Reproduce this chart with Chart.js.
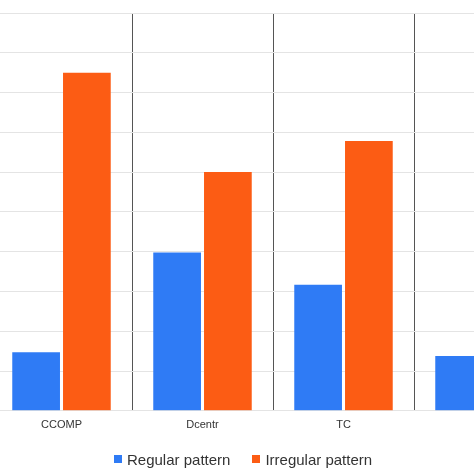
<!DOCTYPE html>
<html>
<head>
<meta charset="utf-8">
<script src="https://cdn.jsdelivr.net/npm/chart.js@4.4.0/dist/chart.umd.min.js"></script>
<style>
  html, body { margin: 0; padding: 0; background: #fff; overflow: hidden; }
  #wrap { position: absolute; left: -9px; top: 0; width: 600px; height: 474px; }
  #legend { position: absolute; top: 451px; left: 114px; font-family: "Liberation Sans", Arial, sans-serif; font-size: 15px; color: #333; white-space: nowrap; }
  #legend span.sw { display: inline-block; width: 8px; height: 8px; margin-right: 5px; vertical-align: 2px; }
</style>
</head>
<body>
<div id="wrap"><canvas id="chart" width="600" height="474"></canvas></div>
<div id="legend">
  <span class="sw" style="background:#2f7bf5"></span>Regular pattern<span style="display:inline-block;width:22px"></span><span class="sw" style="background:#fc5c14"></span>Irregular pattern
</div>
<script>
const categories = ["CCOMP", "Dcentr", "TC", "P"];
const regularValues = [1.47, 3.98, 3.17, 1.38];
const irregularValues = [8.5, 6.0, 6.78, 5.0];
const seriesNames = ["Regular pattern", "Irregular pattern"];

new Chart(document.getElementById("chart"), {
  type: "bar",
  data: {
    labels: categories,
    datasets: [
      { label: seriesNames[0], data: regularValues, backgroundColor: "#2f7bf5" },
      { label: seriesNames[1], data: irregularValues, backgroundColor: "#fc5c14" },
    ],
  },
  options: {
    responsive: false,
    animation: false,
    layout: { padding: { left: 0, right: 36, top: 13, bottom: 34 } },
    datasets: { bar: { categoryPercentage: 0.72, barPercentage: 0.94 } },
    plugins: { legend: { display: false }, tooltip: { enabled: false } },
    scales: {
      x: {
        grid: { offset: true, color: "#555", lineWidth: 1, drawTicks: false },
        border: { display: false },
        ticks: { color: "#333", font: { family: "Liberation Sans", size: 11 }, padding: 8 },
      },
      y: {
        min: 0,
        max: 10,
        ticks: { display: false, stepSize: 1 },
        grid: { color: "#e4e4e4", drawTicks: false },
        border: { display: false },
        afterFit: (s) => { s.width = 0; },
      },
    },
  },
});
</script>
</body>
</html>
